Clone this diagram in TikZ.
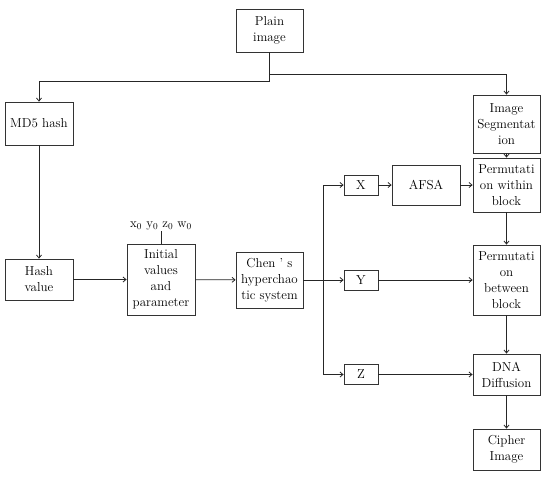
\documentclass[tikz,border=0pt]{standalone}
\usepackage{tikz}
\usetikzlibrary{arrows.meta,positioning}

\begin{document}
\begin{tikzpicture}[
            x=1pt, y=-1pt,
            >={Straight Barb[length=3pt,width=5pt]},
            block/.style={draw=black!80, line width=0.8pt, align=center, inner sep=1pt,
                minimum width=67pt, font=\fontsize{13}{16}\selectfont},
            small/.style={block, minimum width=34pt, minimum height=20pt},
            flow/.style={->, line width=0.8pt, black!85}
        ]
        \useasboundingbox (0,0) rectangle (550,477);
        \node[block, minimum height=43pt] (plain) at (269.5,30.5) {Plain\\image};
        \node[block, minimum width=68pt, minimum height=43pt] (md5) at (39,123.5) {MD5 hash};
        \node[block, minimum height=58pt] (imgseg) at (506.5,124) {Image\\Segmentat\\ion};
        \coordinate (split) at (269.5,74);
        \draw[line width=0.8pt, black!85] (plain.south) -- (split);
        \draw[flow] (split) -- ++(0,7) -| (md5.north);
        \draw[flow] (split) -| (imgseg.north);

        \node[block, minimum width=68pt, minimum height=41pt] (hash) at (39,279.5) {Hash\\value};
        \node[block, minimum width=68pt, minimum height=71pt] (initial) at (161,279.5) {Initial\\values\\and\\parameter};
        \node[font=\fontsize{13}{14}\selectfont, inner sep=1pt] (seed) at (161,226)
            {x\textsubscript{0} y\textsubscript{0} z\textsubscript{0} w\textsubscript{0}};
        \node[block, minimum height=56pt] (chen) at (269.5,280) {Chen~’~s\\hyperchao\\tic system};
        \draw[flow] (md5) -- (hash);
        \draw[flow] (hash) -- (initial);
        \draw[line width=0.8pt, black!85] (seed.south) -- (initial.north);
        \draw[flow] (initial) -- (chen);

        \node[small] (x) at (361,185) {X};
        \node[small] (y) at (361,280) {Y};
        \node[small] (z) at (361,374.5) {Z};
        \node[block, minimum width=68pt, minimum height=40pt] (afsa) at (426,185) {AFSA};
        \coordinate (junc) at (323,280);
        \draw[flow] (chen) -- (y);
        \draw[flow] (junc) |- (x.west);
        \draw[flow] (junc) |- (z.west);

        \node[block, minimum height=54pt] (within) at (506.5,185) {Permutati\\on within\\block};
        \node[block, minimum height=70pt] (between) at (506.5,280) {Permutati\\on\\between\\block};
        \node[block, minimum height=41pt] (dna) at (506.5,374.5) {DNA\\Diffusion};
        \node[block, minimum height=41pt] (cipher) at (506.5,449.5) {Cipher\\Image};
        \draw[flow] (x) -- (afsa);
        \draw[flow] (afsa) -- (within);
        \draw[flow] (imgseg) -- (within);
        \draw[flow] (within) -- (between);
        \draw[flow] (y) -- (between);
        \draw[flow] (between) -- (dna);
        \draw[flow] (z) -- (dna);
        \draw[flow] (dna) -- (cipher);
    \end{tikzpicture}
\end{document}
